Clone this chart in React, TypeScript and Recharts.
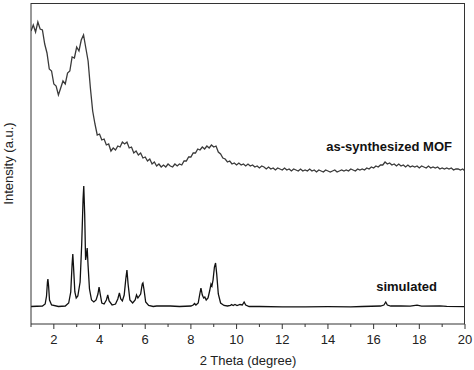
import React from "react"
import { LineChart, Line, XAxis, YAxis, ReferenceDot } from "recharts"

// simulated pattern: 2θ positions and intensities (a.u.)
const SIM_2THETA = [
  1.0, 1.5, 1.62, 1.68, 1.72, 1.74, 1.77, 1.81, 1.9, 2.2,
  2.5, 2.65, 2.74, 2.8, 2.83, 2.86, 2.92, 2.98, 3.05, 3.15,
  3.22, 3.28, 3.31, 3.35, 3.39, 3.42, 3.46, 3.5, 3.56, 3.65,
  3.75, 3.85, 3.93, 3.98, 4.03, 4.1, 4.2, 4.3, 4.36, 4.42,
  4.55, 4.7, 4.8, 4.87, 4.93, 5.0, 5.08, 5.15, 5.2, 5.25,
  5.33, 5.45, 5.56, 5.62, 5.68, 5.8, 5.87, 5.9, 5.95, 6.02,
  6.15, 6.35, 6.5, 7.1, 7.5, 8.0, 8.1, 8.16, 8.22, 8.32,
  8.39, 8.44, 8.5, 8.56, 8.61, 8.67, 8.75, 8.82, 8.88, 8.92,
  8.97, 9.03, 9.08, 9.13, 9.2, 9.3, 9.45, 9.6, 9.73, 9.78,
  9.85, 9.93, 10.02, 10.15, 10.25, 10.33, 10.4, 10.55, 11.0, 12.0,
  13.0, 14.0, 15.0, 15.5, 16.3, 16.45, 16.53, 16.6, 16.75, 17.2,
  17.6, 17.9, 18.1, 18.9, 19.2, 20.0,
]
const SIM_INTENSITY = [
  17.5, 18, 20, 28, 42, 45, 38, 24, 19, 17.5,
  18, 21, 32, 60, 70, 58, 32, 26, 28, 42,
  80, 125, 138, 110, 64, 68, 76, 58, 35, 24,
  22, 24, 30, 37, 30, 21, 20, 24, 29, 23,
  19, 20, 25, 31, 25, 23, 29, 45, 54, 40,
  24, 21, 24, 29, 26, 30, 40, 41, 34, 22,
  18.5, 17.5, 18, 18, 17.5, 18, 19, 20.5, 19, 21,
  30, 36, 29, 26, 27, 24, 26, 33, 40, 38,
  44, 57, 61, 50, 30, 21, 18.5, 18, 18.5, 19.5,
  18.5, 19.5, 18.5, 19.5, 19, 22, 19, 17.5, 17.5, 17.2,
  17.2, 17.3, 17.2, 17.5, 18, 19, 22, 19, 18, 18,
  17.8, 18.8, 17.8, 18.2, 17.6, 17.3,
]

// as-synthesized MOF: measured from 1.0° in 0.1° steps
const MOF_START = 1.0
const MOF_STEP = 0.1
const MOF_INTENSITY = [
  293, 299, 292, 302, 295, 294, 280, 271, 255, 253,
  240, 238, 229, 236, 243, 240, 251, 253, 267, 266,
  277, 273, 284, 289, 276, 263, 236, 213, 200, 189,
  190, 184, 185, 179, 180, 173, 176, 174, 178, 177,
  182, 180, 182, 176, 177, 171, 173, 169, 171, 166,
  167, 163, 165, 160, 162, 158, 160, 157, 159, 157,
  160, 158, 157, 160, 158, 160, 159, 163, 163, 167,
  167, 171, 171, 175, 174, 177, 175, 178, 176, 179,
  177, 178, 172, 170, 166, 165, 162, 163, 160, 161,
  159, 161, 159, 160, 158, 160, 158, 159, 157, 158,
  156, 158, 157, 155, 157, 155, 156, 154, 156, 155,
  154, 156, 154, 155, 153, 155, 154, 153, 155, 153,
  154, 153, 155, 153, 154, 152, 154, 153, 152, 154,
  153, 152, 153, 154, 152, 153, 154, 153, 154, 153,
  155, 154, 153, 155, 154, 155, 154, 156, 155, 157,
  156, 158, 157, 159, 159, 162, 160, 161, 159, 160,
  158, 160, 158, 159, 157, 159, 157, 158, 157, 158,
  156, 158, 157, 156, 158, 156, 157, 156, 157, 155,
  156, 155, 156, 155, 156, 154, 155, 155, 154, 155,
  153,
]

const MAJOR_TICKS = [2, 4, 6, 8, 10, 12, 14, 16, 18, 20]
const MINOR_TICKS = [1, 3, 5, 7, 9, 11, 13, 15, 17, 19]

const FONT = "'Liberation Sans', Arial, sans-serif"
const AXIS = "#333"
const W = 474
const H = 370
const M = { top: 3, right: 9, left: 31, bottom: 46 }
const PLOT_H = H - M.top - M.bottom

const simData = SIM_2THETA.map((x, i) => ({ x, y: SIM_INTENSITY[i] }))
const mofData = MOF_INTENSITY.map((y, i) => ({
  x: +(MOF_START + i * MOF_STEP).toFixed(1),
  y,
}))
const allTicks = [...MINOR_TICKS, ...MAJOR_TICKS].sort((a, b) => a - b)

// tick marks + labels; the first and last ticks also draw the top/right frame edges
const XTick = (props: any) => {
  const { x, y, payload } = props
  const v = payload.value
  const major = MAJOR_TICKS.includes(v)
  return (
    <g>
      <line x1={x} x2={x} y1={y} y2={y + (major ? 5 : 3)} stroke={AXIS} strokeWidth={1} />
      {v === 1 && (
        <line x1={x} x2={W - M.right} y1={y - PLOT_H + 0.5} y2={y - PLOT_H + 0.5} stroke={AXIS} strokeWidth={1} />
      )}
      {v === 20 && (
        <line x1={x - 0.5} x2={x - 0.5} y1={y} y2={y - PLOT_H} stroke={AXIS} strokeWidth={1} />
      )}
      {major && (
        <text x={x} y={y + 20} textAnchor="middle" fontSize={13} fontFamily={FONT} fill="#222">
          {v}
        </text>
      )}
    </g>
  )
}

const NoteLabel = (text: string) => (props: any) => {
  const { viewBox } = props
  return (
    <text
      x={viewBox.x}
      y={viewBox.y + 5}
      textAnchor="end"
      fontSize={13}
      fontWeight="bold"
      fontFamily={FONT}
      fill="#111"
    >
      {text}
    </text>
  )
}

const YLabel = () => {
  const cx = 13
  const cy = M.top + PLOT_H / 2
  return (
    <text
      x={cx}
      y={cy}
      transform={`rotate(-90, ${cx}, ${cy})`}
      textAnchor="middle"
      fontSize={13}
      fontFamily={FONT}
      fill="#222"
    >
      Intensity (a.u.)
    </text>
  )
}

export default function App() {
  return (
    <div style={{ position: "absolute", left: 0, top: 0, width: W, height: H, background: "#fff" }}>
      <LineChart width={W} height={H} margin={{ top: M.top, right: M.right, bottom: 0, left: 0 }}>
        <XAxis
          dataKey="x"
          type="number"
          domain={[1, 20]}
          ticks={allTicks}
          interval={0}
          allowDataOverflow
          height={M.bottom}
          tickLine={false}
          tickSize={0}
          tickMargin={0}
          tick={<XTick />}
          axisLine={{ stroke: AXIS }}
          label={() => (
            <text
              x={M.left + (W - M.left - M.right) / 2}
              y={H - 5}
              textAnchor="middle"
              fontSize={13}
              fontFamily={FONT}
              fill="#222"
            >
              2 Theta (degree)
            </text>
          )}
        />
        <YAxis
          type="number"
          domain={[0, 321]}
          width={M.left}
          tick={false}
          tickLine={false}
          axisLine={{ stroke: AXIS }}
          label={YLabel}
        />
        <Line
          data={mofData}
          dataKey="y"
          type="linear"
          stroke="#3a3a3a"
          strokeWidth={1.3}
          dot={false}
          isAnimationActive={false}
        />
        <Line
          data={simData}
          dataKey="y"
          type="linear"
          stroke="#111"
          strokeWidth={1.3}
          dot={false}
          isAnimationActive={false}
        />
        <ReferenceDot x={19.43} y={178} r={0} stroke="none" ifOverflow="visible" label={NoteLabel("as-synthesized MOF")} />
        <ReferenceDot x={18.77} y={38} r={0} stroke="none" ifOverflow="visible" label={NoteLabel("simulated")} />
      </LineChart>
    </div>
  )
}
